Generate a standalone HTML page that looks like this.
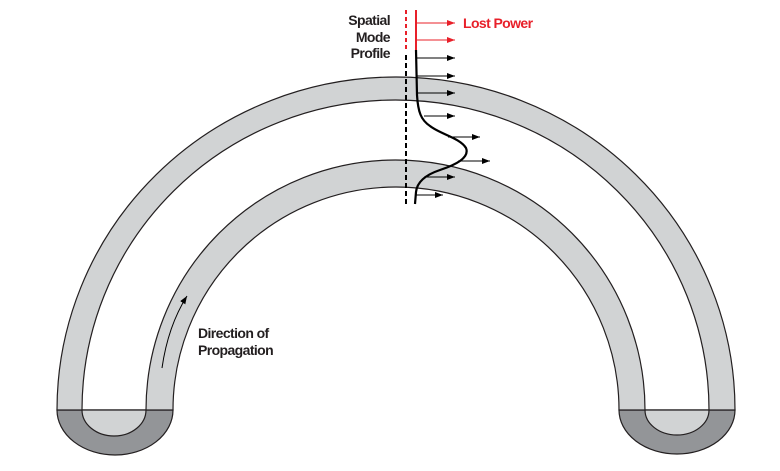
<!DOCTYPE html>
<html><head><style>body{margin:0;background:#fff}svg{display:block}text{font-family:"Liberation Sans",sans-serif;font-size:14px;font-weight:bold;letter-spacing:-0.6px}</style></head>
<body>
<svg width="780" height="471" viewBox="0 0 780 471" xmlns="http://www.w3.org/2000/svg">
<defs><marker id="a" markerWidth="8" markerHeight="6" refX="8" refY="3" orient="auto" markerUnits="userSpaceOnUse"><path d="M0,0 L8,3 L0,6z" fill="#000"/></marker>
<marker id="r" markerWidth="8" markerHeight="6" refX="8" refY="3" orient="auto" markerUnits="userSpaceOnUse"><path d="M0,0 L8,3 L0,6z" fill="#e8202a"/></marker></defs>
<g stroke="#231f20" stroke-width="1.2">
<!-- caps -->
<path d="M57,410 A58,45 0 0 0 173,410 Z" fill="#939598"/>
<path d="M82,410 A32,26 0 0 0 146,410 Z" fill="#d1d3d4"/>
<path d="M619,410 A58,44 0 0 0 735,410 Z" fill="#939598"/>
<path d="M645,410 A32,25 0 0 0 709,410 Z" fill="#d1d3d4"/>
<!-- arch -->
<path d="M57,410 A339,333 0 0 1 735,410 L709,410 A313.5,310 0 0 0 82,410 Z" fill="#d1d3d4"/>
<path d="M146,410 A249.5,250 0 0 1 645,410 L619,410 A223,223 0 0 0 173,410 Z" fill="#d1d3d4"/>
</g>
<g stroke="#d1d3d4" stroke-width="1.5"><line x1="58" y1="410" x2="82" y2="410" stroke="none"/></g>
<!-- dashed axis -->
<line x1="406" y1="10" x2="406" y2="52" stroke="#e8202a" stroke-width="2" stroke-dasharray="4,3"/>
<line x1="406" y1="55" x2="406" y2="207" stroke="#000" stroke-width="2" stroke-dasharray="5,3"/>
<!-- profile -->
<line x1="416" y1="10" x2="416" y2="50" stroke="#e8202a" stroke-width="2"/>
<path d="M416,50 L417,95 C418,112 421,120 430,126 C440,134 460,138 466,148 C470,158 455,165 440,170 C425,175 417,182 416,192 L415,204" fill="none" stroke="#000" stroke-width="2.2"/>
<g stroke="#e8202a" stroke-width="1"><line x1="416" y1="23" x2="455" y2="23" marker-end="url(#r)"/><line x1="416" y1="40" x2="455" y2="40" marker-end="url(#r)"/></g>
<g stroke="#000" stroke-width="1">
<line x1="417" y1="58" x2="455" y2="58" marker-end="url(#a)"/>
<line x1="417" y1="76" x2="455" y2="76" marker-end="url(#a)"/>
<line x1="418" y1="93" x2="455" y2="93" marker-end="url(#a)"/>
<line x1="424" y1="116" x2="455" y2="116" marker-end="url(#a)"/>
<line x1="448" y1="137" x2="480" y2="137" marker-end="url(#a)"/>
<line x1="458" y1="161" x2="490" y2="161" marker-end="url(#a)"/>
<line x1="424" y1="177" x2="455" y2="177" marker-end="url(#a)"/>
<line x1="416" y1="195" x2="443" y2="195" marker-end="url(#a)"/>
<path d="M162,368 C166,340 175,315 187,296" fill="none" marker-end="url(#a)"/>
</g>
<g fill="#231f20">
<text x="390" y="25" text-anchor="end">Spatial</text>
<text x="390" y="42" text-anchor="end">Mode</text>
<text x="390" y="58" text-anchor="end">Profile</text>
<text x="198" y="338">Direction of</text>
<text x="198" y="355">Propagation</text>
</g>
<text x="463" y="28" fill="#e8202a">Lost Power</text>
</svg>
</body></html>
